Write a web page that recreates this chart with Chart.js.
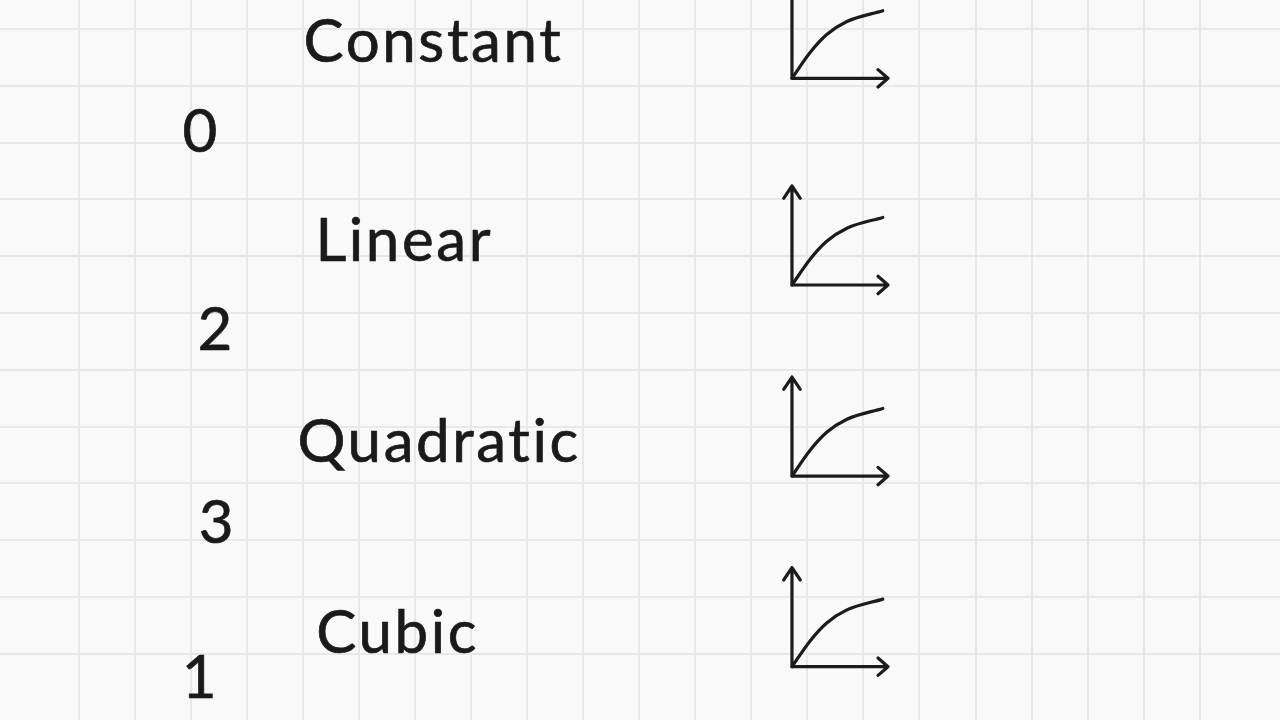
<!DOCTYPE html>
<html>
<head>
<meta charset="utf-8">
<script src="https://cdn.jsdelivr.net/npm/chart.js@4/dist/chart.umd.min.js"></script>
<style>
    html, body { margin: 0; padding: 0; background: #f9f9f9; }
    #board { display: block; }
</style>
</head>
<body>
<canvas id="board" width="1280" height="720"></canvas>
<script>
// rows of the board
const categories = ['Constant', 'Linear', 'Quadratic', 'Cubic'];
const values = [0, 2, 3, 1];

// where things sit, in whiteboard squares
const labelX = [7.31, 6.79, 7.41, 6.67];
const labelY = [0.58, 4.08, 7.62, 10.99];
const valueX = [3.16, 3.43, 3.45, 3.15];
const valueY = [2.17, 5.65, 9.05, 11.78];
const iconX = [13.725, 13.725, 13.725, 13.725];
const iconY = [0.868, 4.507, 7.87, 11.227];

// the little sketch: curve (squares, y up from the corner)
const curveDx = [0, 0.32, 0.62, 0.98, 1.62];
const curveDy = [0, 0.45, 0.77, 1.0, 1.19];
// axes with arrow heads: y arm, y tip, y arm, back to tip, corner, x tip, x arm, x tip, x arm
const axesDx = [-0.148, 0, 0.148, 0, 0, 1.713, 1.535, 1.713, 1.535];
const axesDy = [1.527, 1.743, 1.527, 1.743, 0, 0, 0.153, 0, -0.153];

var ink = '#1b1b1b';

function sketchPoints(ox, oy, dx, dy) {
    var pts = [];
    for (var i = 0; i < dx.length; i++) {
        pts.push({ x: ox + dx[i], y: oy - dy[i] });
    }
    return pts;
}

var datasets = [];
categories.forEach(function (name, i) {
    datasets.push({
        label: name + ' axes',
        data: sketchPoints(iconX[i], iconY[i], axesDx, axesDy),
        showLine: true,
        borderColor: ink,
        borderWidth: 3.2,
        borderJoinStyle: 'round',
        borderCapStyle: 'round',
        pointRadius: 0,
        tension: 0
    });
    datasets.push({
        label: name + ' curve',
        data: sketchPoints(iconX[i], iconY[i], curveDx, curveDy),
        showLine: true,
        borderColor: ink,
        borderWidth: 3.2,
        borderCapStyle: 'round',
        pointRadius: 0,
        cubicInterpolationMode: 'monotone'
    });
});

var boardBackground = {
    id: 'boardBackground',
    beforeDraw: function (chart) {
        var c = chart.ctx;
        c.save();
        c.fillStyle = '#f9f9f9';
        c.fillRect(0, 0, chart.width, chart.height);
        c.restore();
    }
};

var boardText = {
    id: 'boardText',
    afterDatasetsDraw: function (chart) {
        var c = chart.ctx;
        var sx = chart.scales.x, sy = chart.scales.y;
        c.save();
        c.fillStyle = '#1a1a1a';
        c.strokeStyle = '#1a1a1a';
        c.lineWidth = 0.7;
        c.textAlign = 'center';
        c.textBaseline = 'alphabetic';
        c.font = '60px Lato';
        categories.forEach(function (name, i) {
            var lx = sx.getPixelForValue(labelX[i]) + 1, ly = sy.getPixelForValue(labelY[i]);
            var vx = sx.getPixelForValue(valueX[i]), vy = sy.getPixelForValue(valueY[i]);
            c.letterSpacing = '2.6px';
            c.fillText(name, lx, ly);
            c.strokeText(name, lx, ly);
            c.letterSpacing = '0px';
            c.fillText(String(values[i]), vx, vy);
            c.strokeText(String(values[i]), vx, vy);
        });
        c.restore();
    }
};

function onlyWholeSquares(scale) {
    scale.ticks = scale.ticks.filter(function (t) {
        return Math.abs(t.value - Math.round(t.value)) < 1e-6;
    });
}

var gridStyle = { color: '#e8e8e8', lineWidth: 2, drawTicks: false };

new Chart(document.getElementById('board'), {
    type: 'scatter',
    data: { datasets: datasets },
    options: {
        responsive: false,
        animation: false,
        layout: { padding: 0 },
        plugins: { legend: { display: false }, tooltip: { enabled: false } },
        scales: {
            x: {
                type: 'linear',
                min: -0.405,
                max: 22.432,
                ticks: { display: false, stepSize: 1 },
                grid: gridStyle,
                border: { display: false },
                afterBuildTicks: onlyWholeSquares
            },
            y: {
                type: 'linear',
                reverse: true,
                min: -0.5106,
                max: 12.165,
                ticks: { display: false, stepSize: 1 },
                grid: gridStyle,
                border: { display: false },
                afterBuildTicks: onlyWholeSquares
            }
        }
    },
    plugins: [boardBackground, boardText]
});
</script>
</body>
</html>
